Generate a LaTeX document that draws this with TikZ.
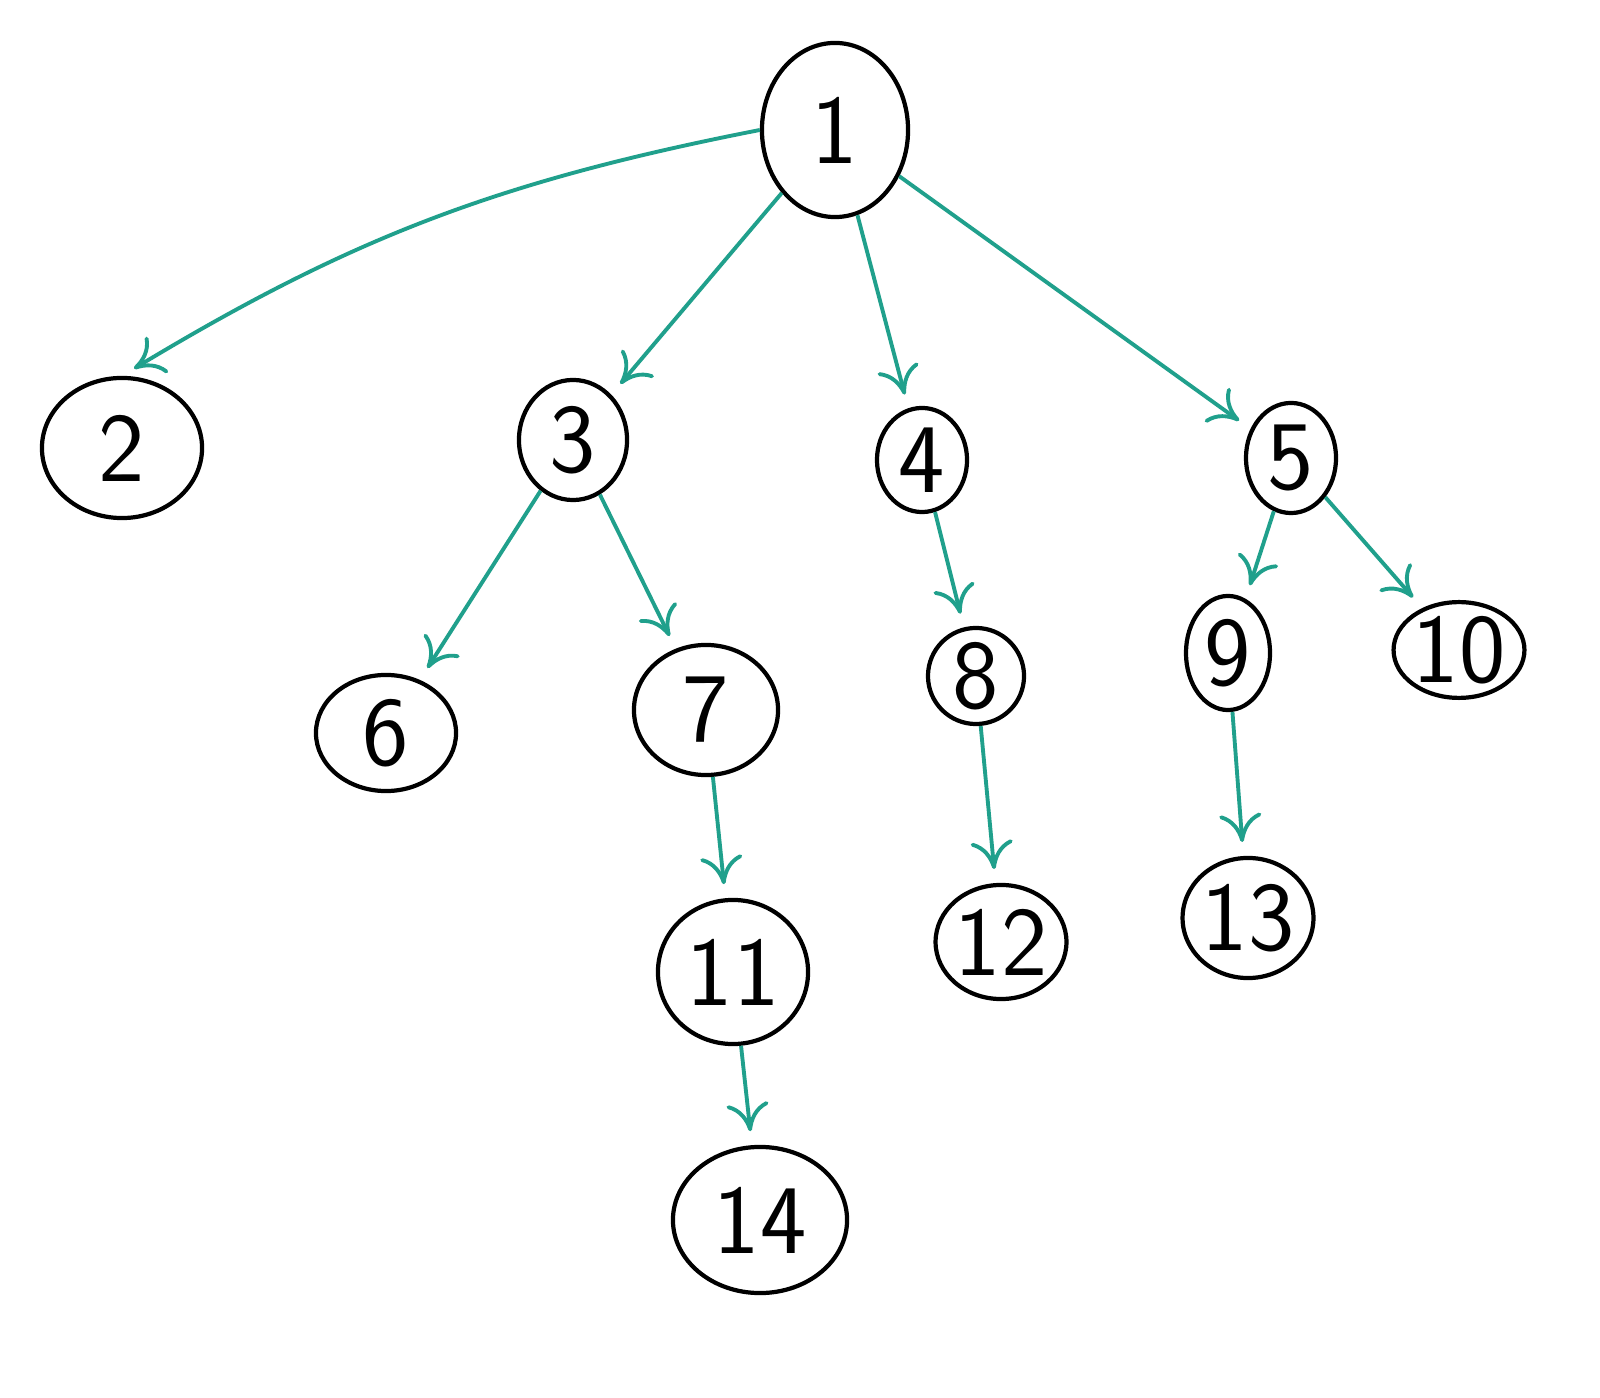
\documentclass[tikz,border=0pt]{standalone}
\usetikzlibrary{shapes.geometric,arrows.meta}
\definecolor{edge}{RGB}{32,160,140}
\begin{document}
\begin{tikzpicture}[x=0.01cm,y=-0.01cm,
  ell/.style={ellipse,draw=black,line width=1.2pt,inner sep=0pt,font=\fontsize{28}{28}\selectfont\sffamily},
  conn/.style={draw=edge,line width=1.1pt,-{To[length=8pt,width=12pt]},shorten >=4pt}]
\useasboundingbox (0,0) rectangle (1600,1398);
\fill[white] (0,0) rectangle (1600,1398);
\newcommand{\nd}[6]{\node[ell,minimum width=#4cm*0.02,minimum height=#5cm*0.02] (#1) at (#2,#3) {#6};}
\nd{n1}{835}{130}{73}{87}{1}
\nd{n2}{122}{448}{80}{70}{2}
\nd{n3}{573}{440}{54}{60}{3}
\nd{n4}{922}{460}{45}{52}{4}
\nd{n5}{1291}{458}{45}{55}{5}
\nd{n6}{386}{733}{70}{58}{6}
\nd{n7}{706}{710}{72}{65}{7}
\nd{n8}{976}{676}{48}{48}{8}
\nd{n9}{1228}{653}{42}{57}{9}
\nd{n10}{1459}{650}{47}{45}{10}
\nd{n11}{733}{972}{75}{72}{11}
\nd{n12}{1001}{942}{60}{57}{12}
\nd{n13}{1248}{918}{60}{60}{13}
\nd{n14}{760}{1220}{87}{73}{14}
\draw[conn] (n1.west) to[bend right=10] (n2.north);
\draw[conn] (n1) -- (n3);
\draw[conn] (n1) -- (n4);
\draw[conn] (n1) -- (n5);
\draw[conn] (n3) -- (n6);
\draw[conn] (n3) -- (n7);
\draw[conn] (n4) -- (n8);
\draw[conn] (n5) -- (n9);
\draw[conn] (n5) -- (n10);
\draw[conn] (n7) -- (n11);
\draw[conn] (n8) -- (n12);
\draw[conn] (n9) -- (n13);
\draw[conn] (n11) -- (n14);
\end{tikzpicture}
\end{document}
